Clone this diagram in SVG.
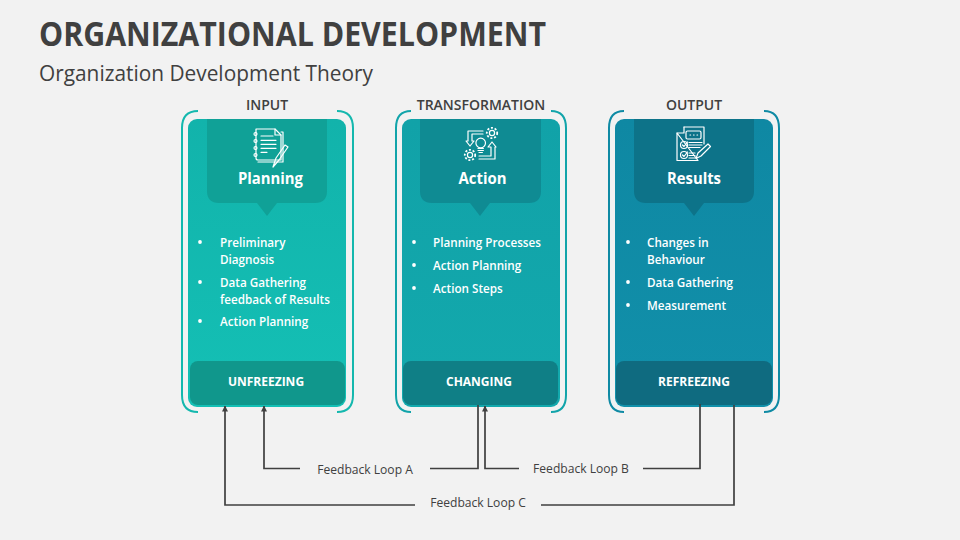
<svg xmlns="http://www.w3.org/2000/svg" width="960" height="540" viewBox="0 0 960 540">
<defs>
<style>
text{font-family:"Open Sans","Noto Sans","Liberation Sans",sans-serif}
.title{font-size:34.5px;font-weight:700;fill:#404040}
.sub{font-size:21px;fill:#404040}
.cap{font-size:14px;font-weight:600;fill:#404040;text-anchor:middle}
.head{font-size:16.500px;font-weight:700;fill:#fff;text-anchor:middle}
.li{font-size:11.700px;font-weight:600;fill:#fff}
.band{font-size:12px;font-weight:700;fill:#fff;text-anchor:middle}
.fb{font-size:12.100px;fill:#404040;text-anchor:middle}
.br{fill:none;stroke-width:2}
.ic{fill:none;stroke:#fff;stroke-width:1.200;stroke-linecap:round;stroke-linejoin:round}
.gear{stroke-width:1.800;stroke-dasharray:2 1.800;stroke-linecap:butt}
.conn{fill:none;stroke:#404040;stroke-width:1.700}
.dot{fill:#fff}
</style>
<marker id="ah" markerUnits="userSpaceOnUse" markerWidth="6" markerHeight="6" refX="5.500" refY="3" orient="auto"><path d="M0 0L6 3L0 6Z" fill="#404040"/></marker>
<linearGradient id="g1" x1="0" y1="0" x2="0" y2="1"><stop offset="0" stop-color="#12b3ab"/><stop offset="1" stop-color="#14c0b5"/></linearGradient>
<linearGradient id="g2" x1="0" y1="0" x2="0" y2="1"><stop offset="0" stop-color="#11a2a8"/><stop offset="1" stop-color="#13a9ad"/></linearGradient>
<linearGradient id="g3" x1="0" y1="0" x2="0" y2="1"><stop offset="0" stop-color="#0f88a3"/><stop offset="1" stop-color="#1190aa"/></linearGradient>
</defs>
<rect width="960" height="540" fill="#f2f2f2"/>
<text class="title" x="39" y="46" textLength="507" lengthAdjust="spacingAndGlyphs">ORGANIZATIONAL DEVELOPMENT</text>
<text class="sub" x="39" y="81" textLength="334" lengthAdjust="spacingAndGlyphs">Organization Development Theory</text>

<g id="node-input">
<path class="br" stroke="#14b8ae" d="M198 111Q182 111 182 128V395Q182 412 198 412M337 111Q353 111 353 128V395Q353 412 337 412"/>
<rect x="188" y="119" width="158" height="288" rx="9" fill="url(#g1)"/>
<path d="M207 119H327V191Q327 203 315 203H277L267 216L257 203H219Q207 203 207 191Z" fill="#10a197"/>
<rect x="190" y="361" width="155" height="44" rx="8" fill="#10978c"/>
<text class="cap" x="267" y="110">INPUT</text>
<g class="ic">
<path d="M256 129H275L281 135V160H258Q256 160 256 158Z"/>
<path d="M275 129V135H281M281 132H283V162H258"/>
<path d="M261 136H273M261 140.300H276M261 144.300H276M261 148.300H276M261 152.300H267"/>
<circle cx="255.500" cy="134" r="1.500"/><circle cx="255.500" cy="141" r="1.500"/><circle cx="255.500" cy="148" r="1.500"/><circle cx="255.500" cy="155" r="1.500"/>
<path d="M273 167L276 158L285 145L288 147L279 160Z"/>
</g>
<text class="head" x="270.500" y="184" textLength="65" lengthAdjust="spacingAndGlyphs">Planning</text>
<g class="li"><circle class="dot" cx="200" cy="242" r="1.900"/><text x="220" y="247">Preliminary</text><text x="220" y="264">Diagnosis</text>
<circle class="dot" cx="200" cy="282" r="1.900"/><text x="220" y="287">Data Gathering</text><text x="220" y="304">feedback of Results</text>
<circle class="dot" cx="200" cy="321" r="1.900"/><text x="220" y="326">Action Planning</text></g>
<text class="band" x="266" y="386">UNFREEZING</text>
</g>

<g id="node-transformation">
<path class="br" stroke="#12a4aa" d="M411 111Q396 111 396 128V395Q396 412 411 412M551 111Q566 111 566 128V395Q566 412 551 412"/>
<rect x="402" y="119" width="158" height="288" rx="9" fill="url(#g2)"/>
<path d="M420 119H541V191Q541 203 529 203H490L480 216L470 203H432Q420 203 420 191Z" fill="#0f8b93"/>
<rect x="403" y="361" width="155" height="44" rx="8" fill="#0f7f86"/>
<text class="cap" x="481" y="110">TRANSFORMATION</text>
<g class="ic">
<circle class="gear" cx="492" cy="133" r="5.200"/><circle cx="492" cy="133" r="2.600"/>
<circle class="gear" cx="470" cy="155" r="5.200"/><circle cx="470" cy="155" r="2.600"/>
<circle cx="480.700" cy="143" r="4.800"/><path d="M478 148.500H483.400M478 150.500H483.400M479 152.500H482.400"/>
<path d="M483 131H468V141H466L470 146L474 141H472V134H483"/>
<path d="M479 156H491V147H488L492 142L496 147H495V159H479"/>
</g>
<text class="head" x="482.500" y="184" textLength="48" lengthAdjust="spacingAndGlyphs">Action</text>
<g class="li"><circle class="dot" cx="414" cy="242" r="1.900"/><text x="433" y="247">Planning Processes</text>
<circle class="dot" cx="414" cy="265" r="1.900"/><text x="433" y="270">Action Planning</text>
<circle class="dot" cx="414" cy="288" r="1.900"/><text x="433" y="293">Action Steps</text></g>
<text class="band" x="479" y="386">CHANGING</text>
</g>

<g id="node-output">
<path class="br" stroke="#0f8aa4" d="M624 111Q609 111 609 128V395Q609 412 624 412M764 111Q779 111 779 128V395Q779 412 764 412"/>
<rect x="615" y="119" width="158" height="288" rx="9" fill="url(#g3)"/>
<path d="M634 119H754V191Q754 203 742 203H704L694 216L684 203H646Q634 203 634 191Z" fill="#0d7389"/>
<rect x="616" y="361" width="156" height="44" rx="8" fill="#0f6b80"/>
<text class="cap" x="694" y="110">OUTPUT</text>
<g class="ic">
<path d="M684 127H704V144M698 160.500H677V133Z"/>
<path d="M684 127V133H677"/>
<rect x="686" y="131" width="15" height="8" rx="1.500"/>
<path d="M690 135h.6M693.500 135h.6M697 135h.6"/>
<circle cx="684" cy="145" r="3.500"/><circle cx="684" cy="155" r="3.500"/>
<path d="M682.500 145L684 146.500L687.500 142M682.500 155L684 156.500L687.500 152"/>
<path d="M689 142.500H702M689 145H702M689 147.500H700M689 153H695M689 155.500H695M689 158H695"/>
<path d="M696 158.500L698 153L708 144L710.500 146.500L701 156Z"/>
</g>
<text class="head" x="694" y="184" textLength="54" lengthAdjust="spacingAndGlyphs">Results</text>
<g class="li"><circle class="dot" cx="628" cy="242" r="1.900"/><text x="647" y="247">Changes in</text><text x="647" y="264">Behaviour</text>
<circle class="dot" cx="628" cy="282" r="1.900"/><text x="647" y="287">Data Gathering</text>
<circle class="dot" cx="628" cy="305" r="1.900"/><text x="647" y="310">Measurement</text></g>
<text class="band" x="694" y="386">REFREEZING</text>
</g>

<g id="connectors">
<path class="conn" marker-end="url(#ah)" d="M300 468.500H264V406"/>
<path class="conn" d="M430 468.500H478V405"/>
<path class="conn" marker-end="url(#ah)" d="M519 468.500H485V406"/>
<path class="conn" d="M643 468.500H700V404"/>
<path class="conn" marker-end="url(#ah)" d="M415 505H225V406"/>
<path class="conn" d="M541 505H734V405"/>
</g>
<g id="connector-labels">
<text class="fb" x="365" y="474">Feedback Loop A</text>
<text class="fb" x="581" y="473">Feedback Loop B</text>
<text class="fb" x="478" y="507">Feedback Loop C</text>
</g>
</svg>
